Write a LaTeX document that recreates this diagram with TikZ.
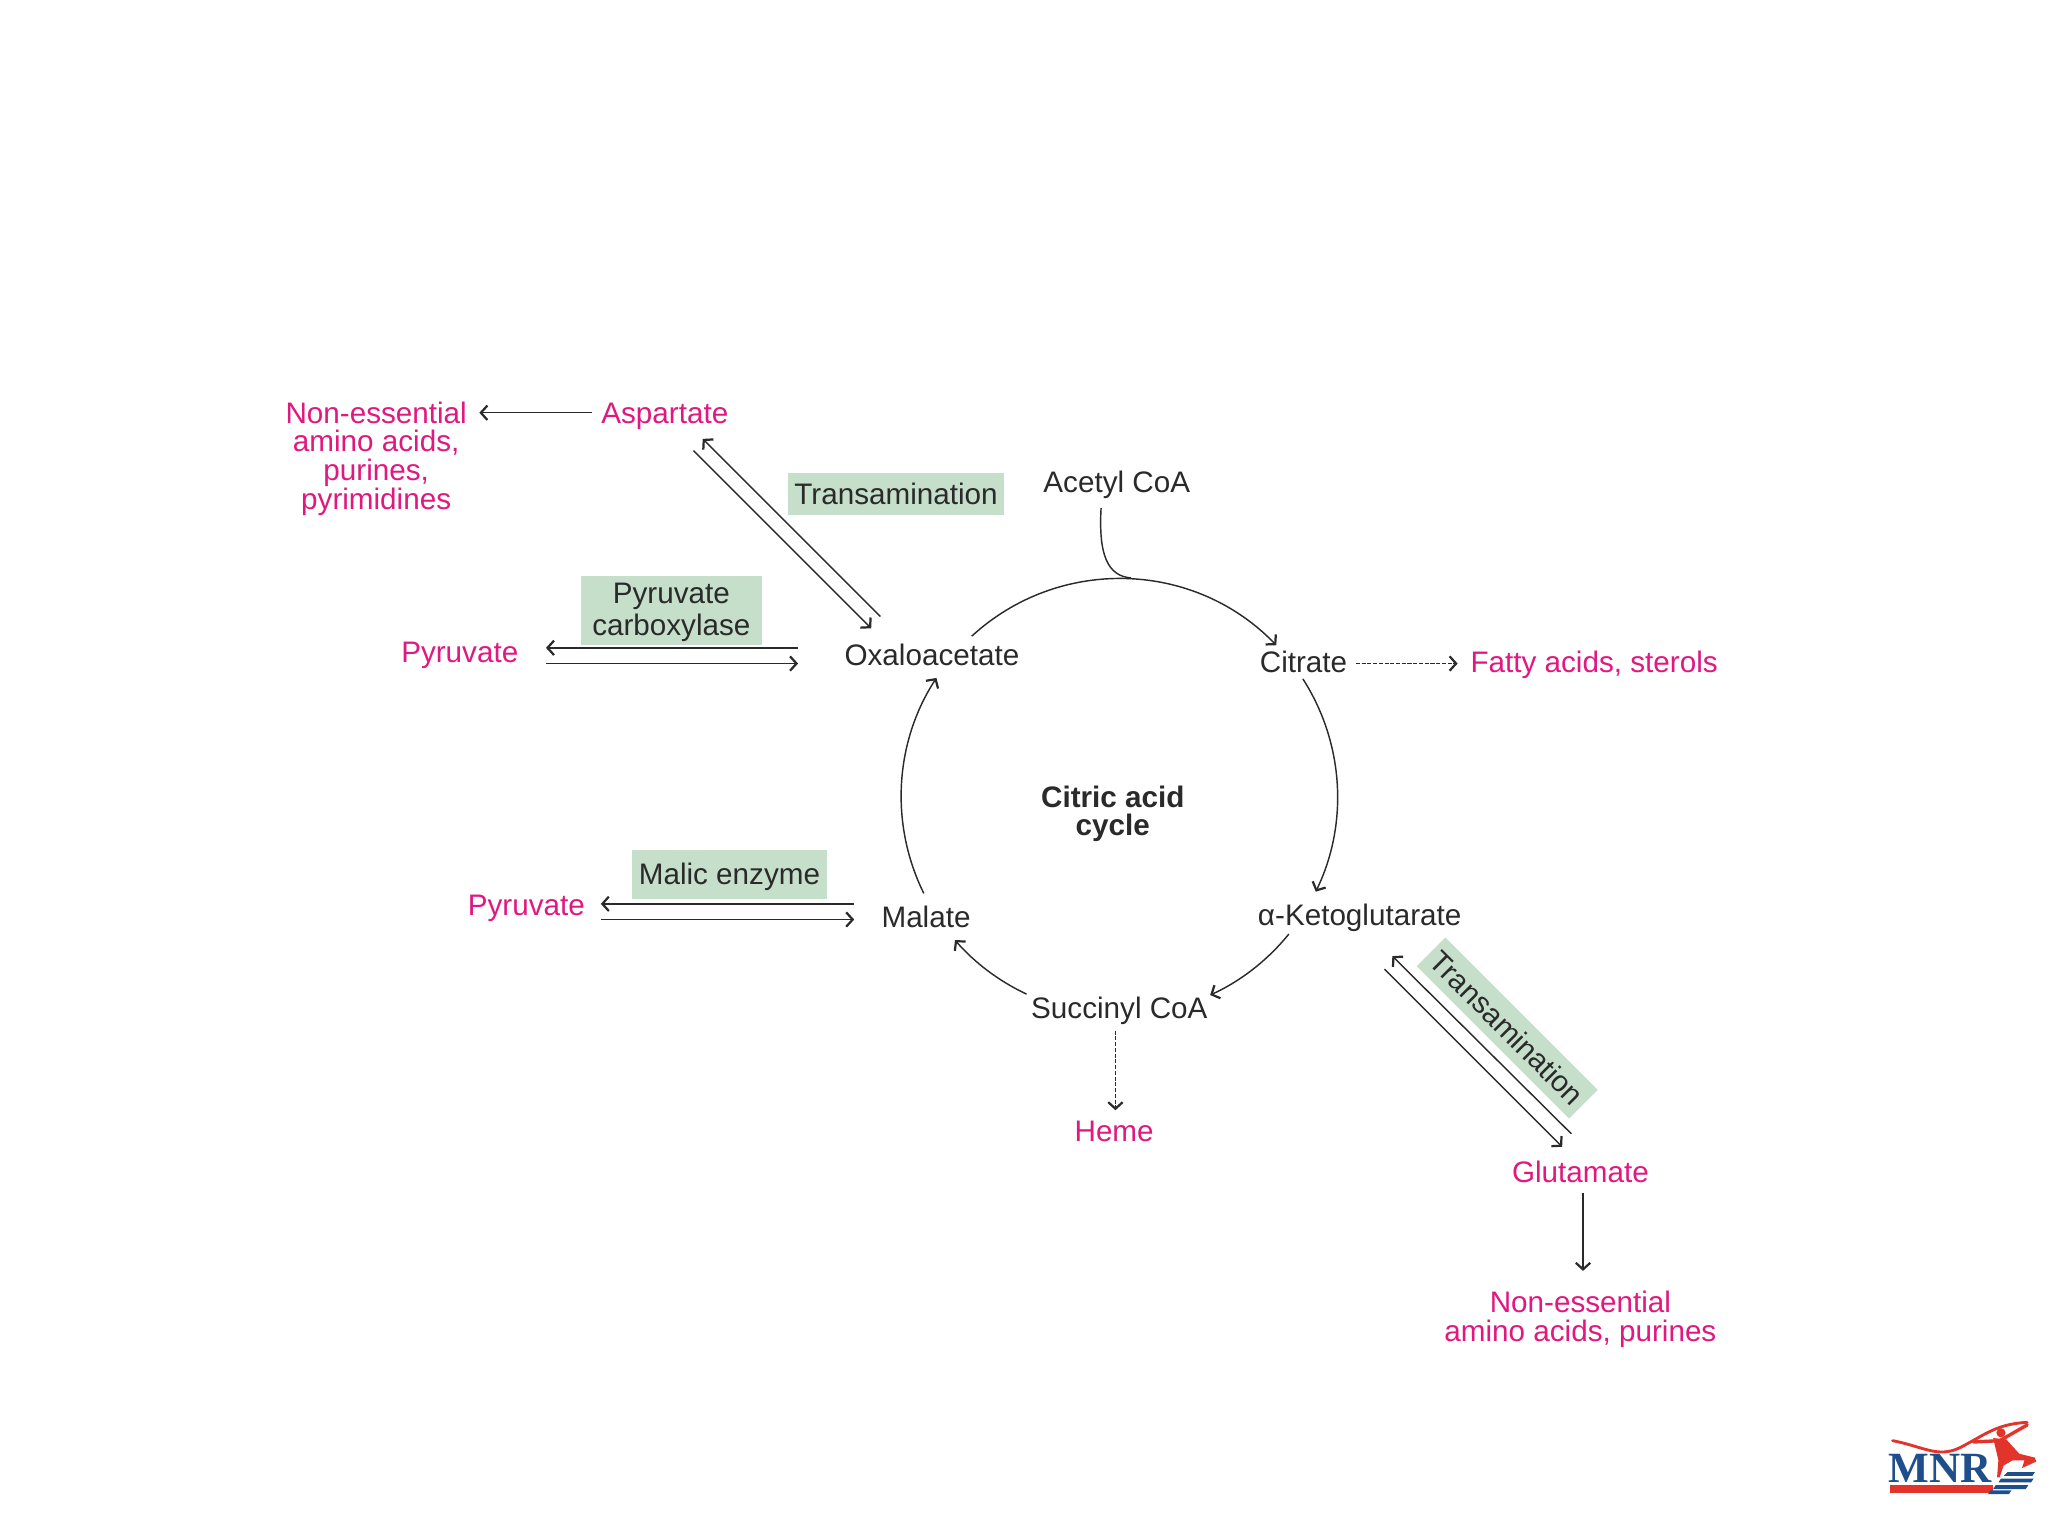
\documentclass[tikz,border=0pt]{standalone}
\usepackage{fontspec}
\setmainfont{Liberation Sans}
\usetikzlibrary{arrows.meta}
\definecolor{pinktext}{HTML}{E0187F}
\definecolor{darktext}{HTML}{2A2A2A}
\definecolor{boxgreen}{HTML}{C5DFCB}
\definecolor{logoblue}{HTML}{1F4E8C}
\definecolor{logored}{HTML}{E2342B}
\tikzset{
  every node/.style={font=\fontsize{22.7}{22}\selectfont, inner sep=0pt, outer sep=0pt, align=center},
  pinkn/.style={text=pinktext},
  darkn/.style={text=darktext},
  enzyme/.style={fill=boxgreen, text=darktext},
  link/.style={draw=darktext, line width=1.1pt, -{Straight Barb[length=5pt,width=11pt,line width=1.7pt]}},
  dashlink/.style={link, dash pattern=on 3.2pt off 1.2pt},
  plainlink/.style={draw=darktext, line width=1.1pt}
}
\begin{document}
\begin{tikzpicture}[x=1pt,y=1pt]
\useasboundingbox (0,0) rectangle (1568,-1176);
\fill[white] (0,0) rectangle (1568,-1176);

% enzyme boxes
\node[enzyme, minimum width=166pt, minimum height=32pt] (tr1) at (686,-378) {Transamination};
\node[enzyme, minimum width=139pt, minimum height=53pt] (pc) at (514,-467.5) {\rule{0pt}{18.3pt}Pyruvate\\[2pt]carboxylase};
\node[enzyme, minimum width=149pt, minimum height=37pt, text height=20pt, text depth=5pt] (me) at (558.5,-669.5) {Malic enzyme};
\node[enzyme, minimum width=165pt, minimum height=31pt, rotate=-45] (tr2) at (1154,-787) {Transamination};

% metabolites
\node[pinkn] (ne1) at (288,-351) {Non-essential\\amino acids,\\purines,\\pyrimidines};
\node[pinkn] (asp) at (509,-319) {Aspartate};
\node[darkn] (acc) at (855,-371) {Acetyl CoA};
\node[pinkn] (pyr1) at (352,-502) {Pyruvate};
\node[darkn] (oxa) at (713.5,-501.5) {Oxaloacetate};
\node[darkn] (cit) at (998,-507) {Citrate};
\node[pinkn] (fat) at (1220.5,-509) {Fatty acids, sterols};
\node[darkn, font=\fontsize{22.7}{22}\selectfont\bfseries] (cac) at (852,-623) {Citric acid\\cycle};
\node[pinkn] (pyr2) at (403,-695.5) {Pyruvate};
\node[darkn] (mal) at (709,-702) {Malate};
\node[darkn] (akg) at (1041,-703) {α-Ketoglutarate};
\node[darkn] (suc) at (857,-774) {Succinyl CoA};
\node[pinkn] (hem) at (853,-866) {Heme};
\node[pinkn] (glu) at (1210,-897) {Glutamate};
\node[pinkn] (ne2) at (1210,-1010) {Non-essential\\amino acids, purines};

% cycle
\coordinate (cyc) at (857,-610);
\path (cyc) ++(132.6:167) coordinate (oxOut);
\path (cyc) ++(32.7:167) coordinate (citOut);
\path (cyc) ++(-39:167) coordinate (akgOut);
\path (cyc) ++(-115.2:167) coordinate (sucOut);
\path (cyc) ++(-153.7:167) coordinate (malOut);
\draw[link] (oxOut) arc[start angle=132.6, end angle=44, radius=167];
\draw[link] (citOut) arc[start angle=32.7, end angle=-25.8, radius=167];
\draw[link] (akgOut) arc[start angle=-39, end angle=-65.4, radius=167];
\draw[link] (sucOut) arc[start angle=-115.2, end angle=-138.9, radius=167];
\draw[link] (malOut) arc[start angle=-153.7, end angle=-213, radius=167];

% acetyl CoA entry
\coordinate (accFoot) at (843,-389);
\coordinate (accJoin) at (866,-442.5);
\draw[plainlink] (accFoot) .. controls (841,-425) and (848,-441) .. (accJoin);

% single arrows
\coordinate (aspFoot) at (453,-316);
\coordinate (neHead) at (367,-316);
\draw[link] (aspFoot) -- (neHead);
\coordinate (citFoot) at (1038,-508);
\coordinate (fatHead) at (1116,-508);
\draw[dashlink] (citFoot) -- (fatHead);
\coordinate (sucFoot) at (854,-789);
\coordinate (hemHead) at (854,-850);
\draw[dashlink] (sucFoot) -- (hemHead);
\coordinate (gluFoot) at (1212,-913);
\coordinate (neTwoHead) at (1212,-973);
\draw[link] (gluFoot) -- (neTwoHead);

% double arrows
\coordinate (p1a) at (611,-496); \coordinate (p1b) at (418,-496);
\coordinate (p1c) at (418,-508); \coordinate (p1d) at (611,-508);
\draw[link] (p1a) -- (p1b);
\draw[link] (p1c) -- (p1d);
\coordinate (p2a) at (654,-692); \coordinate (p2b) at (460,-692);
\coordinate (p2c) at (460,-704); \coordinate (p2d) at (654,-704);
\draw[link] (p2a) -- (p2b);
\draw[link] (p2c) -- (p2d);
\coordinate (t1a) at (531,-345); \coordinate (t1b) at (667,-481);
\coordinate (t1c) at (674,-472); \coordinate (t1d) at (538,-336);
\draw[link] (t1a) -- (t1b);
\draw[link] (t1c) -- (t1d);
\coordinate (t2a) at (1060,-742); \coordinate (t2b) at (1196,-878);
\coordinate (t2c) at (1203,-868); \coordinate (t2d) at (1066,-732);
\draw[link] (t2a) -- (t2b);
\draw[link] (t2c) -- (t2d);

% logo
\draw[logored, line width=2.2pt, line cap=round] (1449,-1103) .. controls (1475,-1108) and (1485,-1118) .. (1505,-1106) .. controls (1520,-1098) and (1530,-1090) .. (1552,-1089);
\draw[logored, line width=2.6pt, line cap=round, line join=round] (1511,-1104) -- (1531,-1103) -- (1552,-1091);
\fill[logored] (1532,-1097) circle (3.5pt);
\fill[logored] (1526,-1101) -- (1536,-1102) -- (1546,-1113) -- (1558,-1116) -- (1559,-1119) -- (1548,-1124) -- (1550,-1118) -- (1541,-1118) -- (1534,-1122) -- (1531,-1131) -- (1529,-1131) -- (1530,-1118) -- cycle;
\node[text=logoblue, font=\fontspec{Liberation Serif}\fontsize{33}{33}\selectfont\bfseries] (logo) at (1485.5,-1124) {MNR};
\fill[logored] (1447,-1137) rectangle (1526,-1143);
\fill[logoblue] (1537,-1127) -- (1558,-1127) -- (1556,-1130) -- (1534,-1130) -- cycle;
\fill[logoblue] (1532,-1132) -- (1557,-1132) -- (1555,-1135) -- (1530,-1135) -- cycle;
\fill[logoblue] (1528,-1137) -- (1553,-1137) -- (1551,-1140) -- (1526,-1140) -- cycle;
\fill[logoblue] (1524,-1141) -- (1540,-1141) -- (1538,-1144) -- (1522,-1144) -- cycle;
\end{tikzpicture}
\end{document}
